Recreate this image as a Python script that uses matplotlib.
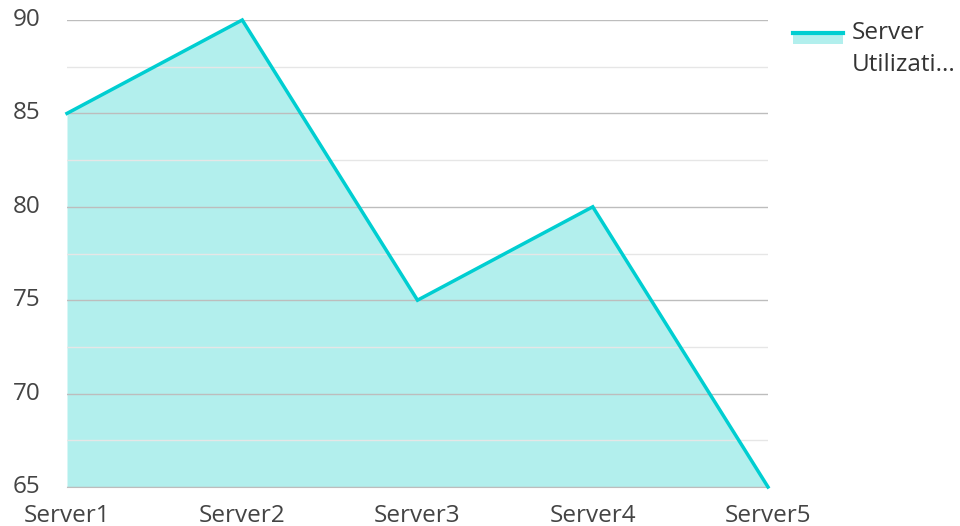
import matplotlib.pyplot as plt
from matplotlib.patches import Rectangle
from matplotlib.lines import Line2D
from matplotlib.ticker import MultipleLocator

servers = ["Server1", "Server2", "Server3", "Server4", "Server5"]
utilization = [85, 90, 75, 80, 65]
series_name = "Server Utilization"

line_color = "#00CED1"
fill_color = "#B2EFED"

plt.rcParams["font.family"] = ["Open Sans", "DejaVu Sans"]

W, H = 960, 526
fig = plt.figure(figsize=(W / 100, H / 100), dpi=100)
ax = fig.add_axes([67 / W, 1 - 487 / H, (768 - 67) / W, (487 - 20) / H])

x = list(range(len(servers)))
ax.fill_between(x, utilization, 65, color=fill_color, lw=0, zorder=2)
ax.plot(x, utilization, color=line_color, lw=2.5, zorder=3, clip_on=False,
        solid_joinstyle="miter")

ax.set_xlim(0, len(servers) - 1)
ax.set_ylim(65, 90)
ax.yaxis.set_major_locator(MultipleLocator(5))
ax.yaxis.set_minor_locator(MultipleLocator(2.5))
ax.grid(which="major", axis="y", color="#bdbdbd", lw=1, zorder=2.5)
ax.grid(which="minor", axis="y", color="#e6e6e6", lw=1, zorder=2.5)
ax.set_axisbelow(False)

ax.set_xticks(x)
ax.set_xticklabels(servers)
for s in ["top", "right", "left"]:
    ax.spines[s].set_visible(False)
ax.spines["bottom"].set_color("#bdbdbd")
ax.tick_params(axis="both", which="both", length=0, labelsize=17.5, colors="#444444")
ax.tick_params(axis="x", pad=12)
ax.tick_params(axis="y", pad=19)
for lab in ax.get_yticklabels():
    lab.set_verticalalignment("center")

# legend drawn by hand so the key lines up with the first text line
fig.add_artist(Rectangle((793 / W, 1 - 44 / H), 50 / W, 12 / H,
                         transform=fig.transFigure, color=fill_color, lw=0))
fig.add_artist(Line2D([793 / W, 843 / W], [1 - 33 / H, 1 - 33 / H],
                      transform=fig.transFigure, color=line_color, lw=3))
fig.text(852 / W, 1 - 33 / H, "Server", fontsize=17.5, color="#333333", va="center")
fig.text(852 / W, 1 - 65 / H, "Utilizati...", fontsize=17.5, color="#333333", va="center")

fig.savefig("out.png", dpi=100)
